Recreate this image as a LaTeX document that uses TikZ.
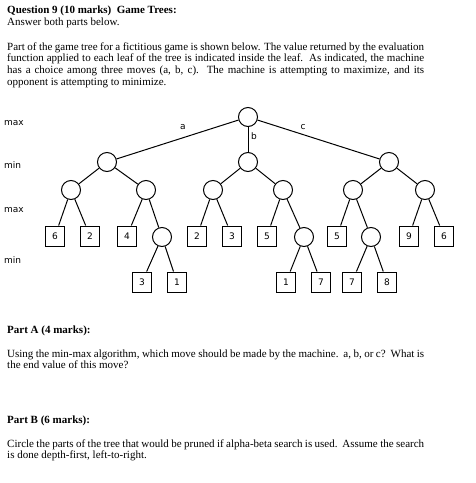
\documentclass[tikz,border=0pt]{standalone}
\usepackage{fontspec}
\setmainfont{Liberation Serif}
\newfontfamily\treefont{DejaVu Sans}
\usetikzlibrary{positioning}
\tikzset{
  statenode/.style={draw, circle, line width=1pt, minimum size=19pt,
    inner sep=0pt},
  leafbox/.style={draw, rectangle, line width=1pt, minimum width=19pt,
    minimum height=20pt, inner sep=0pt,
    font=\treefont\fontsize{9}{9}\selectfont},
  levellabel/.style={anchor=west, inner sep=0pt,
    font=\treefont\fontsize{9}{9}\selectfont},
  movelabel/.style={inner sep=0pt, font=\treefont\fontsize{9}{9}\selectfont},
  branch/.style={line width=1pt},
  headtext/.style={anchor=base west, inner sep=0pt,
    font=\bfseries\fontsize{11}{11.6}\selectfont},
  bodytext/.style={anchor=north west, inner sep=0pt, text width=417pt,
    align=justify, font=\fontsize{11}{11.6}\selectfont},
}

\begin{document}
\begin{tikzpicture}[x=1pt, y=-1pt]
  \useasboundingbox (0,0) rectangle (475,483);

  % Question text
  \node[headtext] (title) at (7,13.5) {Question 9 (10 marks)\ \ Game Trees:};
  \node[headtext, font=\fontsize{11}{11.6}\selectfont] (answer) at (7,25.5)
    {Answer both parts below.};
  \node[bodytext] (intro) at (7,42.3)
    {Part of the game tree for a fictitious game is shown below. The value
     returned by the evaluation function applied to each leaf of the tree is
     indicated inside the leaf.\ \ As indicated, the machine\linebreak has a
     choice among three moves (a, b, c).\ \ The machine is attempting to
     maximize, and its\linebreak opponent is attempting to minimize.};

  % Level labels
  \node[levellabel] (lv1) at (4,123) {max};
  \node[levellabel] (lv2) at (4,165) {min};
  \node[levellabel] (lv3) at (4,210) {max};
  \node[levellabel] (lv4) at (4,260) {min};

  % Root and moves
  \node[statenode] (r) at (248,117) {};
  \node[statenode] (a) at (107,162) {};
  \node[statenode] (b) at (248,162) {};
  \node[statenode] (c) at (389,162) {};

  % Max level
  \node[statenode] (a1) at (71,190) {};
  \node[statenode] (a2) at (146,190) {};
  \node[statenode] (b1) at (213,190) {};
  \node[statenode] (b2) at (283,190) {};
  \node[statenode] (c1) at (353,190) {};
  \node[statenode] (c2) at (425,190) {};

  % Leaves and min level
  \node[leafbox] (l1) at (55,236) {6};
  \node[leafbox] (l2) at (90,236) {2};
  \node[leafbox] (l3) at (127,236) {4};
  \node[statenode] (m1) at (162,237) {};
  \node[leafbox] (l6) at (197,236) {2};
  \node[leafbox] (l7) at (232,236) {3};
  \node[leafbox] (l8) at (267,236) {5};
  \node[statenode] (m2) at (304,237) {};
  \node[leafbox] (l11) at (337,236) {5};
  \node[statenode] (m3) at (371,237) {};
  \node[leafbox] (l14) at (409,236) {9};
  \node[leafbox] (l15) at (444,236) {6};

  % Bottom leaves
  \node[leafbox] (l4) at (142,282) {3};
  \node[leafbox] (l5) at (177,282) {1};
  \node[leafbox] (l9) at (286,282) {1};
  \node[leafbox] (l10) at (321,282) {7};
  \node[leafbox] (l12) at (352,282) {7};
  \node[leafbox] (l13) at (387,282) {8};

  % Branches
  \foreach \s/\t in {r/a, r/b, r/c, a/a1, a/a2, b/b1, b/b2, c/c1, c/c2,
      a1/l1, a1/l2, a2/l3, a2/m1, m1/l4, m1/l5,
      b1/l6, b1/l7, b2/l8, b2/m2, m2/l9, m2/l10,
      c1/l11, c1/m3, m3/l12, m3/l13, c2/l14, c2/l15} {
    \draw[branch] (\s) -- (\t);
  }

  % Move labels
  \node[movelabel] (mva) at (183,127) {a};
  \node[movelabel] (mvb) at (254,136) {b};
  \node[movelabel] (mvc) at (303,127) {c};

  % Parts
  \node[headtext] (parta) at (7,333) {Part A (4 marks):};
  \node[bodytext] (texta) at (7,349.3)
    {Using the min-max algorithm, which move should be made by the
     machine.\ \ a, b, or c?\ \ What is\linebreak the end value of this
     move?};
  \node[headtext] (partb) at (7,423) {Part B (6 marks):};
  \node[bodytext] (textb) at (7,439.3)
    {Circle the parts of the tree that would be pruned if alpha-beta search
     is used.\ \ Assume the search\linebreak is done depth-first,
     left-to-right.};
\end{tikzpicture}
\end{document}
